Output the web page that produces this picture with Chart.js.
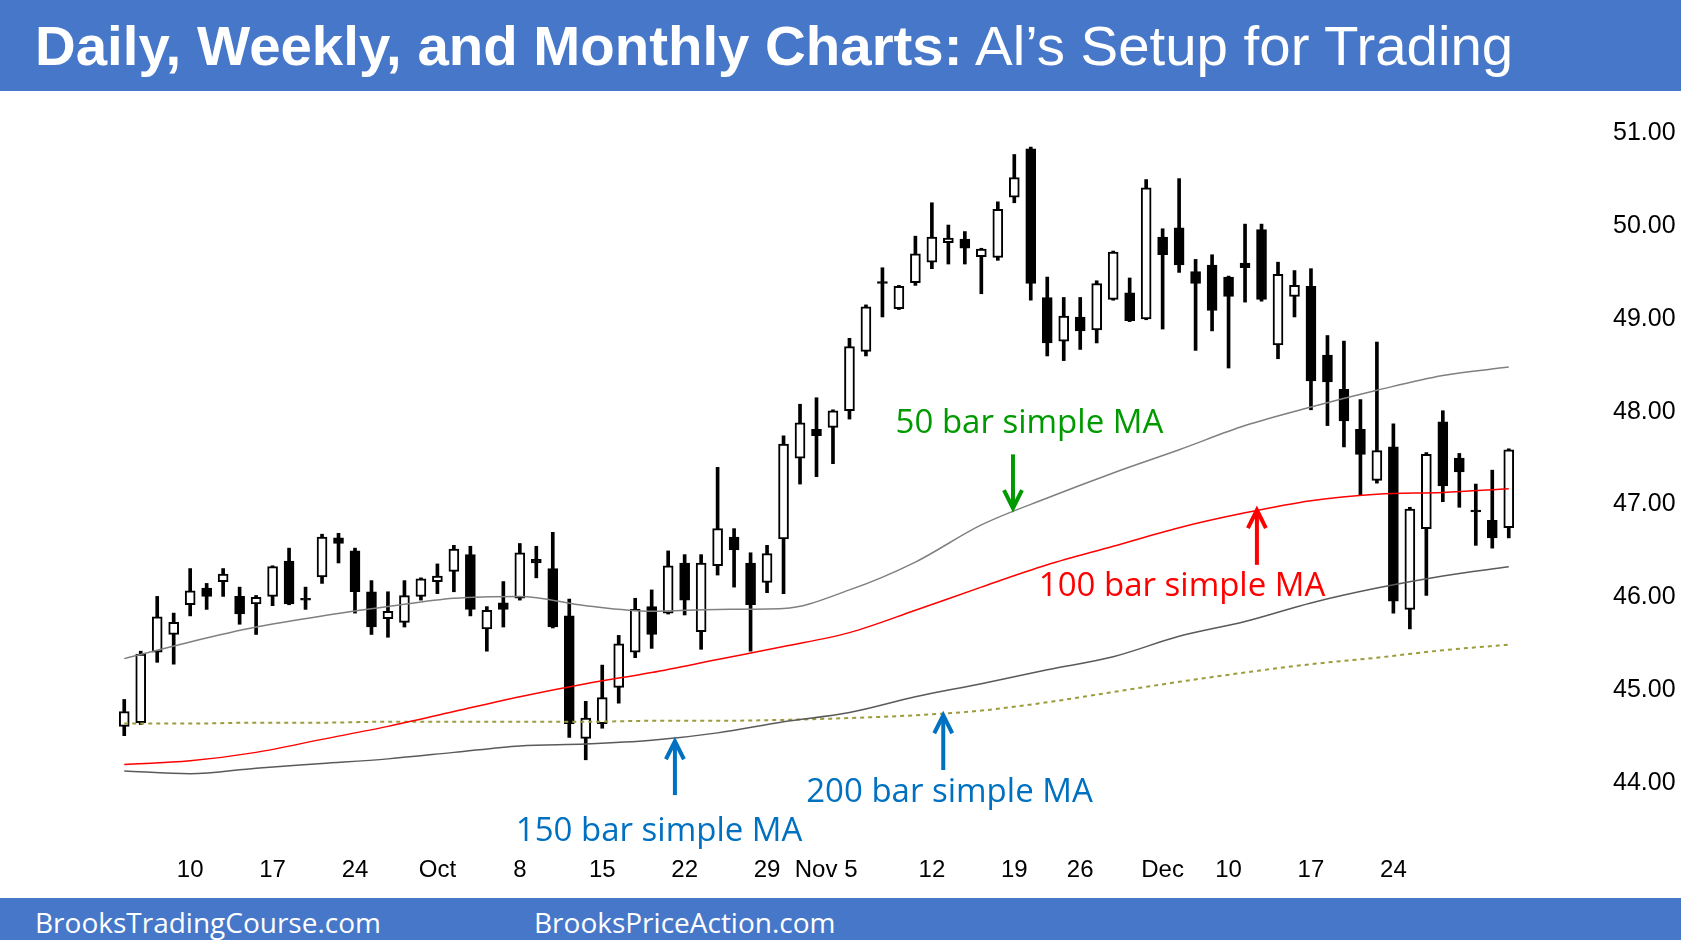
<!DOCTYPE html>
<html>
<head>
<meta charset="utf-8">
<script src="https://cdn.jsdelivr.net/npm/chart.js@4.4.1/dist/chart.umd.min.js"></script>
<style>
  html, body { margin: 0; padding: 0; background: #fff; }
  #wrap { position: relative; width: 1681px; height: 940px; overflow: hidden; }
  #chart { position: absolute; left: 0; top: 0; }
  .bar { position: absolute; left: 0; width: 1681px; background: #4677c8; color: #fff; }
  #title { top: 0; height: 91px; }
  #title span.t { position: absolute; left: 35px; top: 18px; font-family: "Liberation Sans", Arial, sans-serif; font-size: 56.4px; line-height: 56px; white-space: nowrap; }
  #title b { font-weight: bold; }
  #footer { top: 898px; height: 42px; overflow: hidden; }
  #footer span { position: absolute; top: 10px; font-family: "Open Sans", sans-serif; font-size: 28px; line-height: 28px; white-space: nowrap; }
</style>
</head>
<body>
<div id="wrap">
  <canvas id="chart" width="1681" height="940"></canvas>
  <div id="title" class="bar"><span class="t"><b>Daily, Weekly, and Monthly Charts:</b> Al’s Setup for Trading</span></div>
  <div id="footer" class="bar"><span style="left:35px">BrooksTradingCourse.com</span><span style="left:534px">BrooksPriceAction.com</span></div>
</div>
<script>
// trading days, Sep 4 2018 -> Jan 4 2019
const days = [
  "9/4", "9/5", "9/6", "9/7", "9/10", "9/11", "9/12", "9/13", "9/14",
  "9/17", "9/18", "9/19", "9/20", "9/21", "9/24", "9/25", "9/26", "9/27", "9/28",
  "10/1", "10/2", "10/3", "10/4", "10/5", "10/8", "10/9", "10/10", "10/11", "10/12",
  "10/15", "10/16", "10/17", "10/18", "10/19", "10/22", "10/23", "10/24", "10/25", "10/26",
  "10/29", "10/30", "10/31", "11/1", "11/2", "11/5", "11/6", "11/7", "11/8", "11/9",
  "11/12", "11/13", "11/14", "11/15", "11/16", "11/19", "11/20", "11/21", "11/23",
  "11/26", "11/27", "11/28", "11/29", "11/30", "12/3", "12/4", "12/6", "12/7",
  "12/10", "12/11", "12/12", "12/13", "12/14", "12/17", "12/18", "12/19", "12/20", "12/21",
  "12/24", "12/26", "12/27", "12/28", "12/31", "1/2", "1/3", "1/4",
];

const opens = [
  44.61, 44.65, 45.41, 45.60, 45.92, 46.10, 46.17, 46.01, 45.93, 46.01,
  46.39, 45.99, 46.22, 46.64, 46.50, 46.06, 45.77, 45.73, 46.01, 46.17,
  46.28, 46.46, 45.66, 45.94, 45.99, 46.41, 46.31, 45.80, 44.48, 44.64,
  45.03, 45.41, 45.90, 45.83, 46.37, 45.63, 46.34, 46.65, 46.37, 46.16,
  46.63, 47.50, 47.81, 47.83, 48.01, 48.65, 49.40, 49.11, 49.39, 49.61,
  49.82, 49.86, 49.67, 49.66, 50.31, 50.83, 49.23, 48.76, 49.02, 48.88,
  49.21, 49.28, 49.00, 49.88, 49.98, 49.51, 49.58, 49.45, 49.60, 49.96,
  48.72, 49.24, 49.35, 48.61, 48.24, 47.81, 47.26, 47.62, 45.87, 46.74,
  47.89, 47.50, 46.94, 46.83, 46.75,
];
const highs = [
  44.90, 45.42, 46.01, 45.83, 46.31, 46.15, 46.31, 46.11, 46.02, 46.34,
  46.53, 46.11, 46.68, 46.69, 46.53, 46.18, 46.06, 46.18, 46.21, 46.36,
  46.56, 46.55, 45.90, 46.17, 46.58, 46.55, 46.70, 45.98, 44.88, 45.27,
  45.59, 45.99, 46.08, 46.50, 46.46, 46.46, 47.40, 46.74, 46.48, 46.56,
  47.74, 48.08, 48.15, 48.02, 48.79, 49.15, 49.55, 49.36, 49.89, 50.25,
  50.01, 49.94, 49.76, 50.26, 50.77, 50.85, 49.45, 49.23, 49.23, 49.41,
  49.73, 49.44, 50.50, 49.97, 50.51, 49.64, 49.69, 49.46, 50.02, 50.02,
  49.61, 49.52, 49.54, 48.82, 48.76, 48.13, 48.75, 47.87, 46.97, 47.56,
  48.01, 47.55, 47.22, 47.37, 47.60,
];
const lows = [
  44.51, 44.63, 45.30, 45.28, 45.80, 45.87, 46.01, 45.71, 45.60, 45.91,
  45.92, 45.87, 46.15, 46.37, 45.83, 45.60, 45.57, 45.68, 45.97, 46.04,
  46.06, 45.80, 45.42, 45.68, 45.97, 46.21, 45.67, 44.49, 44.25, 44.59,
  44.86, 45.35, 45.45, 45.82, 45.81, 45.44, 46.24, 46.11, 45.42, 46.05,
  46.04, 47.22, 47.30, 47.44, 47.92, 48.60, 49.02, 49.10, 49.36, 49.54,
  49.59, 49.59, 49.27, 49.63, 50.25, 49.20, 48.60, 48.55, 48.67, 48.74,
  49.20, 48.97, 48.99, 48.89, 49.50, 48.66, 48.87, 48.47, 49.18, 49.19,
  48.57, 49.02, 48.02, 47.85, 47.62, 47.10, 47.23, 45.83, 45.66, 46.02,
  47.03, 46.97, 46.56, 46.53, 46.64,
];
const closes = [
  44.77, 45.39, 45.79, 45.73, 46.07, 46.01, 46.25, 45.82, 46.00, 46.33,
  45.93, 45.97, 46.65, 46.58, 46.06, 45.68, 45.85, 46.02, 46.20, 46.23,
  46.52, 45.87, 45.86, 45.87, 46.48, 46.37, 45.68, 44.64, 44.70, 44.92,
  45.50, 45.87, 45.60, 46.34, 45.97, 46.37, 46.74, 46.51, 45.92, 46.47,
  47.65, 47.88, 47.74, 48.01, 48.70, 49.13, 49.38, 49.35, 49.70, 49.88,
  49.87, 49.76, 49.75, 50.18, 50.52, 49.38, 48.74, 49.03, 48.87, 49.38,
  49.72, 48.98, 50.41, 49.69, 49.58, 49.38, 49.09, 49.24, 49.55, 49.21,
  49.48, 49.36, 48.33, 48.32, 47.90, 47.54, 47.58, 45.96, 46.95, 47.54,
  47.20, 47.35, 46.92, 46.64, 47.59,
];

// moving averages
const maDays = ["9/4", "9/10", "9/14", "9/20", "9/26", "10/2", "10/8", "10/12", "10/18", "10/24", "10/30",
  "11/5", "11/9", "11/15", "11/21", "11/28", "12/4", "12/11", "12/17", "12/21", "12/28", "1/4"];
const ma50 = [45.34, 45.52, 45.68, 45.80, 45.90, 45.99, 46.01, 45.91, 45.85, 45.87, 45.88,
  46.08, 46.38, 46.78, 47.07, 47.34, 47.59, 47.85, 48.05, 48.23, 48.39, 48.48];
const ma100 = [44.20, 44.24, 44.33, 44.47, 44.61, 44.77, 44.93, 45.07, 45.19, 45.33, 45.47,
  45.62, 45.86, 46.11, 46.35, 46.55, 46.75, 46.91, 47.04, 47.11, 47.13, 47.17];
const ma150 = [44.13, 44.10, 44.16, 44.21, 44.26, 44.33, 44.40, 44.42, 44.46, 44.54, 44.66,
  44.76, 44.93, 45.07, 45.22, 45.36, 45.58, 45.74, 45.94, 46.10, 46.23, 46.33];
const ma200 = [44.64, 44.64, 44.65, 44.65, 44.66, 44.66, 44.66, 44.66, 44.67, 44.67, 44.68,
  44.70, 44.73, 44.78, 44.87, 44.98, 45.09, 45.19, 45.28, 45.35, 45.43, 45.49];

const tickLabels = {
  "9/10": "10", "9/17": "17", "9/24": "24", "10/1": "Oct", "10/8": "8", "10/15": "15",
  "10/22": "22", "10/29": "29", "11/5": "Nov 5       ", "11/12": "12", "11/19": "19", "11/26": "26",
  "12/3": "Dec", "12/10": "10", "12/17": "17", "12/24": "24",
};
const yTicks = [44, 45, 46, 47, 48, 49, 50, 51];

// text + arrow labels (x in bar index, y in price)
const notes = [
  { text: "50 bar simple MA", color: "#009a00", at: [54.92, 47.77], arrow: [53.92, 47.54, 46.96] },
  { text: "100 bar simple MA", color: "#ff0000", at: [64.18, 46.01], arrow: [68.72, 46.35, 46.94] },
  { text: "150 bar simple MA", color: "#0070c0", at: [32.45, 43.38], arrow: [33.41, 43.87, 44.45] },
  { text: "200 bar simple MA", color: "#0070c0", at: [50.07, 43.80], arrow: [49.69, 44.14, 44.73] },
];

const notesPlugin = {
  id: "notes",
  afterDraw(chart) {
    const ctx = chart.ctx;
    const xs = chart.scales.x, ys = chart.scales.y;
    ctx.save();
    ctx.font = '33px "Open Sans"';
    ctx.textAlign = "center";
    ctx.textBaseline = "alphabetic";
    notes.forEach((n) => {
      ctx.fillStyle = n.color;
      ctx.strokeStyle = n.color;
      ctx.fillText(n.text, xs.getPixelForValue(n.at[0]), ys.getPixelForValue(n.at[1]));
      const ax = xs.getPixelForValue(n.arrow[0]);
      const y0 = ys.getPixelForValue(n.arrow[1]);
      const y1 = ys.getPixelForValue(n.arrow[2]);
      const dir = y1 > y0 ? 1 : -1;
      ctx.lineWidth = 4;
      ctx.beginPath();
      ctx.moveTo(ax, y0);
      ctx.lineTo(ax, y1 - dir * 2);
      ctx.stroke();
      ctx.beginPath();
      ctx.moveTo(ax - 9, y1 - dir * 18);
      ctx.lineTo(ax, y1);
      ctx.lineTo(ax + 9, y1 - dir * 18);
      ctx.stroke();
    });
    ctx.restore();
  },
};

const up = days.map((d, i) => closes[i] >= opens[i]);
const maLine = (vals, color, extra) => Object.assign({
  type: "line",
  data: maDays.map((d, k) => ({ x: d, y: vals[k] })),
  borderColor: color,
  borderWidth: 1.5,
  pointRadius: 0,
  cubicInterpolationMode: "monotone",
  order: -1,
}, extra || {});

new Chart(document.getElementById("chart"), {
  type: "bar",
  data: {
    labels: days,
    datasets: [
      {
        // bodies
        data: days.map((d, i) => [opens[i], closes[i]]),
        backgroundColor: up.map((u) => (u ? "#ffffff" : "#000000")),
        borderColor: "#000000",
        borderWidth: 2,
        borderSkipped: false,
        barThickness: 10,
        grouped: false,
        order: 0,
      },
      {
        // wicks
        data: days.map((d, i) => [lows[i], highs[i]]),
        backgroundColor: "#000000",
        borderWidth: 0,
        barThickness: 3,
        grouped: false,
        order: 1,
      },
      maLine(ma50, "#808080"),
      maLine(ma100, "#ff0000"),
      maLine(ma150, "#5a5a5a"),
      maLine(ma200, "#9c9c3c", { borderDash: [4, 4], borderWidth: 2 }),
    ],
  },
  options: {
    responsive: false,
    animation: false,
    events: [],
    layout: { padding: { left: 116, top: 96, right: 0, bottom: 42 } },
    plugins: { legend: { display: false }, tooltip: { enabled: false } },
    scales: {
      x: {
        offset: true,
        grid: { display: false, drawTicks: false },
        border: { display: false },
        afterFit: (s) => { s.height = 50; },
        ticks: {
          autoSkip: false,
          maxRotation: 0,
          padding: 8,
          color: "#000",
          font: { family: "Liberation Sans", size: 24 },
          callback: function (v) { return tickLabels[this.getLabelForValue(v)] || ""; },
        },
      },
      y: {
        position: "right",
        min: 43.3,
        max: 51.4,
        grid: { display: false, drawTicks: true, tickLength: 96 },
        border: { display: false },
        afterFit: (s) => { s.width = 164; },
        afterBuildTicks: (s) => { s.ticks = yTicks.map((v) => ({ value: v })); },
        ticks: {
          padding: 0,
          color: "#000",
          font: { family: "Liberation Sans", size: 25 },
          callback: (v) => Number(v).toFixed(2),
        },
      },
    },
  },
  plugins: [notesPlugin],
});
</script>
</body>
</html>
